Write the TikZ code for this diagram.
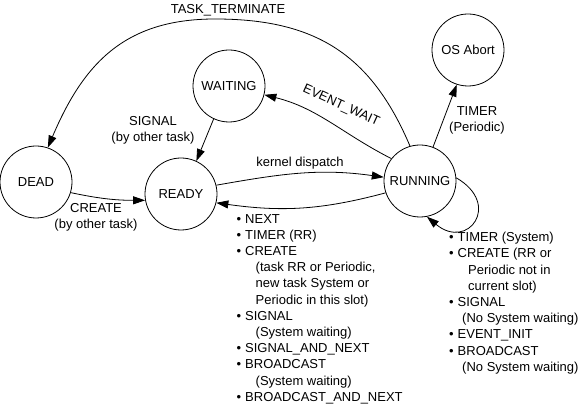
\documentclass[tikz,border=0pt]{standalone}
\usepackage{fontspec}
\setmainfont{Liberation Sans}
\usepackage{tikz}
\usetikzlibrary{arrows.meta}

\newcommand\lblfont{\fontsize{13}{16.2}\selectfont}
\newcommand\itm{\makebox[8.5pt][l]{\textbullet}}
\newcommand\cont{\hspace*{19pt}}

\begin{document}
\begin{tikzpicture}[x=1pt,y=1pt,
  state/.style={draw, circle, minimum size=72pt, inner sep=0pt,
    line width=0.8pt, font=\lblfont},
  trans/.style={-{Triangle[length=12pt,width=8pt]}, line width=0.8pt},
  lbl/.style={font=\lblfont, align=center, inner sep=0pt},
  lst/.style={font=\lblfont, align=left, anchor=north west, inner sep=0pt}]
  \useasboundingbox (0,0) rectangle (585,404);
  % states
  \node[state] (dead) at (36,222) {DEAD};
  \node[state] (ready) at (181,210) {READY};
  \node[state] (waiting) at (229,318) {WAITING};
  \node[state] (running) at (420,223) {RUNNING};
  \node[state] (abort) at (468,354) {OS Abort};
  \coordinate (top) at (215,385);
  % transitions
  \draw[trans] (running.106) to[out=113,in=0,looseness=1.1] (top)
    to[out=180,in=67,looseness=1.1] (dead.71);
  \draw[trans] (running.142) to[out=153,in=-14] (waiting.-14);
  \draw[trans] (waiting.245) -- (ready.65);
  \draw[trans] (ready.14) to[out=10,in=172] (running.174);
  \draw[trans] (running.199) to[out=195,in=-8] (ready.-14);
  \draw[trans] (dead.-17) to[out=-12,in=180] (ready.190);
  \draw[trans] (running.69) -- (abort.252);
  \draw[trans] (running.5) to[out=-30,in=-40,looseness=2.8] (running.-79);
  % labels
  \node[lbl] (lterm) at (228,394) {TASK\_TERMINATE};
  \node[lbl, rotate=-24.5] (lwait) at (341,298) {EVENT\_WAIT};
  \node[lbl] (lsignal) at (153,274) {SIGNAL\\(by other task)};
  \node[lbl] (ldisp) at (300,241) {kernel dispatch};
  \node[lbl] (lcreate) at (96,187) {CREATE\\(by other task)};
  \node[lbl] (ltimer) at (477,284) {TIMER\\(Periodic)};
  \node[lst] (lready) at (236.5,190) {\itm NEXT\\
    \itm TIMER (RR)\\
    \itm CREATE\\
    \cont(task RR or Periodic,\\
    \cont new task System or\\
    \cont Periodic in this slot)\\
    \itm SIGNAL\\
    \cont(System waiting)\\
    \itm SIGNAL\_AND\_NEXT\\
    \itm BROADCAST\\
    \cont(System waiting)\\
    \itm BROADCAST\_AND\_NEXT};
  \node[lst] (lrun) at (449,172) {\itm TIMER (System)\\
    \itm CREATE (RR or\\
    \cont Periodic not in\\
    \cont current slot)\\
    \itm SIGNAL\\
    \hspace*{13pt}(No System waiting)\\
    \itm EVENT\_INIT\\
    \itm BROADCAST\\
    \hspace*{13pt}(No System waiting)};
\end{tikzpicture}
\end{document}
